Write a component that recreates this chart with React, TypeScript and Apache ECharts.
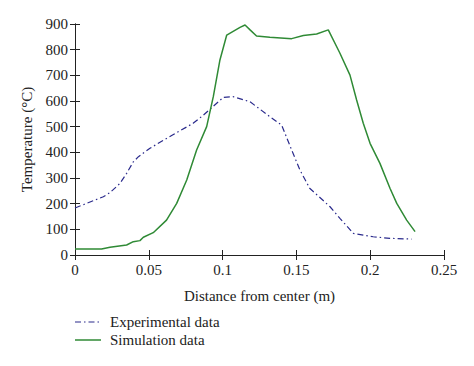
import React, { useEffect, useRef } from "react";
import * as echarts from "echarts";

const expX = [0, 0.0192, 0.0237, 0.0305, 0.035, 0.0395, 0.043, 0.0508, 0.062, 0.08, 0.087, 0.096, 0.1005, 0.107, 0.1186, 0.132, 0.14, 0.1468, 0.1524, 0.159, 0.1728, 0.1795, 0.1886, 0.202, 0.2134, 0.228];
const expY = [183, 227, 243, 279, 318, 363, 383, 416, 454, 513, 545, 591, 614, 617, 597, 539, 506, 409, 331, 260, 188, 143, 84, 71, 65, 62];

const simX = [0, 0.018, 0.0237, 0.035, 0.0395, 0.044, 0.0463, 0.053, 0.062, 0.0689, 0.0757, 0.0824, 0.0892, 0.0937, 0.0982, 0.1028, 0.1118, 0.1152, 0.1186, 0.123, 0.132, 0.1468, 0.1547, 0.1637, 0.1716, 0.1795, 0.1863, 0.1908, 0.1953, 0.1999, 0.2066, 0.2134, 0.218, 0.2247, 0.2304];
const simY = [23, 23, 30, 39, 52, 56, 69, 87, 136, 201, 292, 409, 500, 617, 760, 857, 887, 896, 877, 853, 848, 843, 855, 861, 877, 786, 701, 604, 513, 435, 357, 260, 201, 136, 91];

const xTicks = [0, 0.05, 0.1, 0.15, 0.2, 0.25];
const yTicks = [0, 100, 200, 300, 400, 500, 600, 700, 800, 900];
const seriesNames = ["Experimental data", "Simulation data"];

const FONT = "Liberation Serif";
const EXP_COLOR = "#2a2a8c";
const SIM_COLOR = "#2f8a35";
const EXP_DASH = [6, 3, 1.5, 3];

export default function App() {
  const ref = useRef<HTMLDivElement>(null);
  useEffect(() => {
    const chart = echarts.init(ref.current!, null, { renderer: "svg" });
    const axisLine = { show: true, lineStyle: { color: "#222", width: 1 } };
    const tick = { show: true, inside: true, length: 5, lineStyle: { color: "#222" } };
    const labelStyle = { fontFamily: FONT, fontSize: 15, color: "#222" };
    chart.setOption({
      animation: false,
      backgroundColor: "#fff",
      textStyle: { fontFamily: FONT },
      grid: { left: 75, right: 30, top: 24, bottom: 111 },
      xAxis: [
        {
          type: "value",
          min: 0,
          max: 0.25,
          interval: 0.05,
          name: "Distance from center (m)",
          nameLocation: "middle",
          nameGap: 33,
          nameTextStyle: labelStyle,
          axisLine,
          axisTick: tick,
          splitLine: { show: false },
          axisLabel: {
            ...labelStyle,
            margin: 7,
            formatter: (v: number) => {
              const f = xTicks.find((t) => Math.abs(t - v) < 1e-9);
              return f === undefined ? "" : String(f);
            },
          },
        },
        {
          type: "value",
          position: "top",
          min: 0,
          max: 0.25,
          interval: 0.05,
          axisLine,
          axisTick: tick,
          axisLabel: { show: false },
          splitLine: { show: false },
        },
      ],
      yAxis: [
        {
          type: "value",
          min: 0,
          max: 900,
          interval: 100,
          name: "Temperature (°C)",
          nameLocation: "middle",
          nameGap: 41,
          nameTextStyle: labelStyle,
          axisLine,
          axisTick: tick,
          splitLine: { show: false },
          axisLabel: {
            ...labelStyle,
            margin: 7,
            formatter: (v: number) => (yTicks.includes(v) ? String(v) : ""),
          },
        },
        {
          type: "value",
          position: "right",
          min: 0,
          max: 900,
          interval: 100,
          axisLine,
          axisTick: tick,
          axisLabel: { show: false },
          splitLine: { show: false },
        },
      ],
      graphic: [
        {
          type: "line",
          shape: { x1: 75, y1: 322, x2: 101, y2: 322 },
          style: { stroke: EXP_COLOR, lineWidth: 1.2, lineDash: EXP_DASH },
        },
        {
          type: "text",
          x: 110,
          y: 322,
          style: { text: seriesNames[0], fill: "#222", font: `15px ${FONT}`, textVerticalAlign: "middle" },
        },
        {
          type: "line",
          shape: { x1: 75, y1: 340, x2: 101, y2: 340 },
          style: { stroke: SIM_COLOR, lineWidth: 1.5 },
        },
        {
          type: "text",
          x: 110,
          y: 340,
          style: { text: seriesNames[1], fill: "#222", font: `15px ${FONT}`, textVerticalAlign: "middle" },
        },
      ],
      series: [
        {
          name: seriesNames[0],
          type: "line",
          showSymbol: false,
          symbol: "none",
          data: expX.map((x, i) => [x, expY[i]]),
          lineStyle: { color: EXP_COLOR, width: 1.2, type: EXP_DASH },
          itemStyle: { color: EXP_COLOR },
        },
        {
          name: seriesNames[1],
          type: "line",
          showSymbol: false,
          symbol: "none",
          data: simX.map((x, i) => [x, simY[i]]),
          lineStyle: { color: SIM_COLOR, width: 1.5 },
          itemStyle: { color: SIM_COLOR },
        },
      ],
    });
    return () => chart.dispose();
  }, []);
  return <div ref={ref} style={{ width: 474, height: 366, position: "absolute", left: 0, top: 0 }} />;
}
